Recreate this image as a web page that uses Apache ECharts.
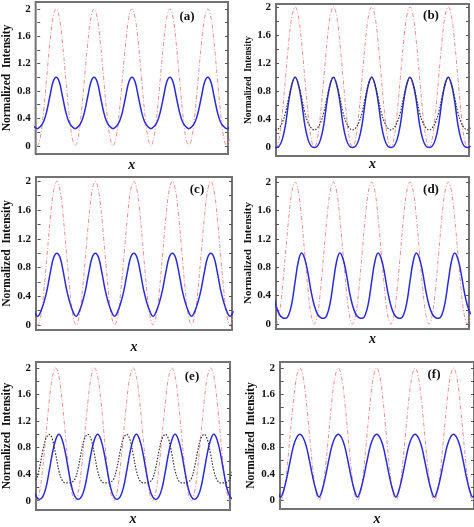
<!DOCTYPE html>
<html>
<head>
<meta charset="utf-8">
<script src="https://cdn.jsdelivr.net/npm/echarts@6/dist/echarts.min.js"></script>
<style>
html, body { margin: 0; padding: 0; background: #fff; }
#chart { width: 474px; height: 527px; }
</style>
</head>
<body>
<div id="chart"></div>
<script>
// sample positions along x, in 1/12 of a period (red trough = 0)
const xPos = [-1, 0, 1, 2, 3, 4, 5, 6, 7, 8, 9, 10, 11,
  12, 13, 14, 15, 16, 17, 18, 19, 20, 21, 22, 23,
  24, 25, 26, 27, 28, 29, 30, 31, 32, 33, 34, 35,
  36, 37, 38, 39, 40, 41, 42, 43, 44, 45, 46, 47,
  48, 49, 50, 51, 52, 53, 54, 55, 56, 57, 58, 59,
  60, 61];

const yLabels = [0, 0.4, 0.8, 1.2, 1.6, 2];
const yTicks = [0, 0.2, 0.4, 0.6, 0.8, 1, 1.2, 1.4, 1.6, 1.8, 2];

// red dash-dot reference (same in every panel)
const red = [0.13,
  0, 0.13, 0.5, 1, 1.5, 1.87, 2, 1.87, 1.5, 1, 0.5, 0.13,
  0, 0.13, 0.5, 1, 1.5, 1.87, 2, 1.87, 1.5, 1, 0.5, 0.13,
  0, 0.13, 0.5, 1, 1.5, 1.87, 2, 1.87, 1.5, 1, 0.5, 0.13,
  0, 0.13, 0.5, 1, 1.5, 1.87, 2, 1.87, 1.5, 1, 0.5, 0.13,
  0, 0.13, 0.5, 1, 1.5, 1.87, 2, 1.87, 1.5, 1, 0.5, 0.13,
  0, 0.13];

const blueA = [0.28,
  0.25, 0.28, 0.35, 0.5, 0.72, 0.93, 1, 0.93, 0.72, 0.5, 0.35, 0.28,
  0.25, 0.28, 0.35, 0.5, 0.72, 0.93, 1, 0.93, 0.72, 0.5, 0.35, 0.28,
  0.25, 0.28, 0.35, 0.5, 0.72, 0.93, 1, 0.93, 0.72, 0.5, 0.35, 0.28,
  0.25, 0.28, 0.35, 0.5, 0.72, 0.93, 1, 0.93, 0.72, 0.5, 0.35, 0.28,
  0.25, 0.28, 0.35, 0.5, 0.72, 0.93, 1, 0.93, 0.72, 0.5, 0.35, 0.28,
  0.25, 0.28];

const blueB = [0.02,
  0, 0.02, 0.12, 0.33, 0.66, 0.9, 1, 0.9, 0.66, 0.33, 0.12, 0.02,
  0, 0.02, 0.12, 0.33, 0.66, 0.9, 1, 0.9, 0.66, 0.33, 0.12, 0.02,
  0, 0.02, 0.12, 0.33, 0.66, 0.9, 1, 0.9, 0.66, 0.33, 0.12, 0.02,
  0, 0.02, 0.12, 0.33, 0.66, 0.9, 1, 0.9, 0.66, 0.33, 0.12, 0.02,
  0, 0.02, 0.12, 0.33, 0.66, 0.9, 1, 0.9, 0.66, 0.33, 0.12, 0.02,
  0, 0.02];

const blackB = [0.28,
  0.25, 0.28, 0.36, 0.5, 0.71, 0.9, 1, 0.9, 0.71, 0.5, 0.36, 0.28,
  0.25, 0.28, 0.36, 0.5, 0.71, 0.9, 1, 0.9, 0.71, 0.5, 0.36, 0.28,
  0.25, 0.28, 0.36, 0.5, 0.71, 0.9, 1, 0.9, 0.71, 0.5, 0.36, 0.28,
  0.25, 0.28, 0.36, 0.5, 0.71, 0.9, 1, 0.9, 0.71, 0.5, 0.36, 0.28,
  0.25, 0.28, 0.36, 0.5, 0.71, 0.9, 1, 0.9, 0.71, 0.5, 0.36, 0.28,
  0.25, 0.28];

const blueC = [0.19,
  0.12, 0.19, 0.32, 0.5, 0.74, 0.94, 1, 0.94, 0.74, 0.5, 0.32, 0.19,
  0.12, 0.19, 0.32, 0.5, 0.74, 0.94, 1, 0.94, 0.74, 0.5, 0.32, 0.19,
  0.12, 0.19, 0.32, 0.5, 0.74, 0.94, 1, 0.94, 0.74, 0.5, 0.32, 0.19,
  0.12, 0.19, 0.32, 0.5, 0.74, 0.94, 1, 0.94, 0.74, 0.5, 0.32, 0.19,
  0.12, 0.19, 0.32, 0.5, 0.74, 0.94, 1, 0.94, 0.74, 0.5, 0.32, 0.19,
  0.12, 0.19];

const blueD = [0.46,
  0.26, 0.14, 0.09, 0.08, 0.13, 0.3, 0.6, 0.88, 1, 0.92, 0.72, 0.46,
  0.26, 0.14, 0.09, 0.08, 0.13, 0.3, 0.6, 0.88, 1, 0.92, 0.72, 0.46,
  0.26, 0.14, 0.09, 0.08, 0.13, 0.3, 0.6, 0.88, 1, 0.92, 0.72, 0.46,
  0.26, 0.14, 0.09, 0.08, 0.13, 0.3, 0.6, 0.88, 1, 0.92, 0.72, 0.46,
  0.26, 0.14, 0.09, 0.08, 0.13, 0.3, 0.6, 0.88, 1, 0.92, 0.72, 0.46,
  0.26, 0.14];

const blueE = [0.2,
  0.06, 0.02, 0.06, 0.2, 0.45, 0.72, 0.92, 1, 0.92, 0.72, 0.45, 0.2,
  0.06, 0.02, 0.06, 0.2, 0.45, 0.72, 0.92, 1, 0.92, 0.72, 0.45, 0.2,
  0.06, 0.02, 0.06, 0.2, 0.45, 0.72, 0.92, 1, 0.92, 0.72, 0.45, 0.2,
  0.06, 0.02, 0.06, 0.2, 0.45, 0.72, 0.92, 1, 0.92, 0.72, 0.45, 0.2,
  0.06, 0.02, 0.06, 0.2, 0.45, 0.72, 0.92, 1, 0.92, 0.72, 0.45, 0.2,
  0.06, 0.02];

const blackE = [0.28,
  0.33, 0.5, 0.75, 0.94, 1, 0.92, 0.7, 0.45, 0.31, 0.27, 0.27, 0.28,
  0.33, 0.5, 0.75, 0.94, 1, 0.92, 0.7, 0.45, 0.31, 0.27, 0.27, 0.28,
  0.33, 0.5, 0.75, 0.94, 1, 0.92, 0.7, 0.45, 0.31, 0.27, 0.27, 0.28,
  0.33, 0.5, 0.75, 0.94, 1, 0.92, 0.7, 0.45, 0.31, 0.27, 0.27, 0.28,
  0.33, 0.5, 0.75, 0.94, 1, 0.92, 0.7, 0.45, 0.31, 0.27, 0.27, 0.28,
  0.33, 0.5];

const blueF = [0.16,
  0.05, 0.16, 0.36, 0.6, 0.82, 0.95, 1, 0.95, 0.82, 0.6, 0.36, 0.16,
  0.05, 0.16, 0.36, 0.6, 0.82, 0.95, 1, 0.95, 0.82, 0.6, 0.36, 0.16,
  0.05, 0.16, 0.36, 0.6, 0.82, 0.95, 1, 0.95, 0.82, 0.6, 0.36, 0.16,
  0.05, 0.16, 0.36, 0.6, 0.82, 0.95, 1, 0.95, 0.82, 0.6, 0.36, 0.16,
  0.05, 0.16, 0.36, 0.6, 0.82, 0.95, 1, 0.95, 0.82, 0.6, 0.36, 0.16,
  0.05, 0.16];

const panelLabels = ['(a)', '(b)', '(c)', '(d)', '(e)', '(f)'];

// layout of each panel
const panels = [
  { grid: [33, 2, 195, 152], x: [-0.5, 60.4], y: [-0.12, 2.1], lab: [187, 17], nameSize: 11.5, nameGap: 20, xGap: 4, curves: [blueA] },
  { grid: [276, 4, 193, 152], x: [0, 60.5], y: [-0.12, 2.04], lab: [431, 16], nameSize: 9.5, nameGap: 21, xGap: 1, curves: [blueB], dots: blackB },
  { grid: [36, 177, 196, 153], x: [-0.5, 60.6], y: [-0.07, 2.06], lab: [197, 190], nameSize: 11.5, nameGap: 23, xGap: 10, curves: [blueC] },
  { grid: [276, 177, 193, 152], x: [0, 60.5], y: [-0.07, 2.07], lab: [431, 190], nameSize: 11, nameGap: 20, xGap: 3, curves: [blueD] },
  { grid: [36, 362, 194, 152], x: [-0.1, 60], y: [-0.14, 2.09], lab: [192, 377], nameSize: 11.5, nameGap: 23, xGap: 2, curves: [blueE], dots: blackE },
  { grid: [280, 362, 195, 151], x: [-0.2, 60.4], y: [-0.13, 2.09], lab: [434, 375], nameSize: 11.5, nameGap: 22, xGap: 3, curves: [blueF] }
];

const serif = '"Liberation Serif", "DejaVu Serif", serif';
const pairs = arr => xPos.map((x, i) => [x, arr[i]]);

const grids = [], xAxes = [], yAxes = [], series = [], graphics = [];

panels.forEach((p, k) => {
  grids.push({
    left: p.grid[0], top: p.grid[1], width: p.grid[2], height: p.grid[3],
    show: true, borderColor: '#727272', borderWidth: 2, backgroundColor: '#fff'
  });
  xAxes.push({
    type: 'value', gridIndex: k, min: p.x[0], max: p.x[1],
    name: 'x', nameLocation: 'middle', nameGap: p.xGap,
    nameTextStyle: { fontFamily: serif, fontStyle: 'italic', fontWeight: 'bold', fontSize: 14, color: '#111' },
    axisLine: { show: false }, axisTick: { show: false }, axisLabel: { show: false },
    splitLine: { show: false }
  });
  yAxes.push({
    type: 'value', gridIndex: k, min: p.y[0], max: p.y[1],
    name: 'Normalized  Intensity', nameLocation: 'middle', nameGap: p.nameGap, nameRotate: 90,
    nameTextStyle: { fontFamily: serif, fontWeight: 'bold', fontSize: p.nameSize, color: '#111' },
    axisLine: { show: false },
    axisTick: { show: true, inside: true, length: 3, customValues: yTicks, lineStyle: { color: '#555' } },
    axisLabel: { show: true, customValues: yLabels, margin: 5, fontFamily: serif, fontWeight: 'bold', fontSize: 11, color: '#111' },
    splitLine: { show: false }
  });
  yAxes.push({
    type: 'value', gridIndex: k, min: p.y[0], max: p.y[1], position: 'right',
    axisLine: { show: false },
    axisTick: { show: true, inside: true, length: 3, customValues: yTicks, lineStyle: { color: '#555' } },
    axisLabel: { show: false }, splitLine: { show: false }
  });

  series.push({
    type: 'line', xAxisIndex: k, yAxisIndex: 2 * k, data: pairs(red),
    showSymbol: false, smooth: 0.4, clip: true, z: 2,
    lineStyle: { color: '#f08c8c', width: 1, type: [4, 2, 1, 2] }
  });
  p.curves.forEach(c => {
    series.push({
      type: 'line', xAxisIndex: k, yAxisIndex: 2 * k, data: pairs(c),
      showSymbol: false, smooth: 0.4, clip: true, z: 3,
      lineStyle: { color: '#2a2ad6', width: 1.5 }
    });
  });
  if (p.dots) {
    series.push({
      type: 'line', xAxisIndex: k, yAxisIndex: 2 * k, data: pairs(p.dots),
      showSymbol: false, smooth: 0.4, clip: true, z: 4,
      lineStyle: { color: '#333', width: 1.2, type: [1.5, 1.5] }
    });
  }

  graphics.push({
    type: 'text', x: p.lab[0], y: p.lab[1], z: 10,
    style: {
      text: panelLabels[k], fill: '#111', font: 'bold 13px ' + serif,
      align: 'center', verticalAlign: 'middle'
    }
  });
});

const chart = echarts.init(document.getElementById('chart'));
chart.setOption({
  animation: false,
  grid: grids,
  xAxis: xAxes,
  yAxis: yAxes,
  series: series,
  graphic: graphics
});
</script>
</body>
</html>
